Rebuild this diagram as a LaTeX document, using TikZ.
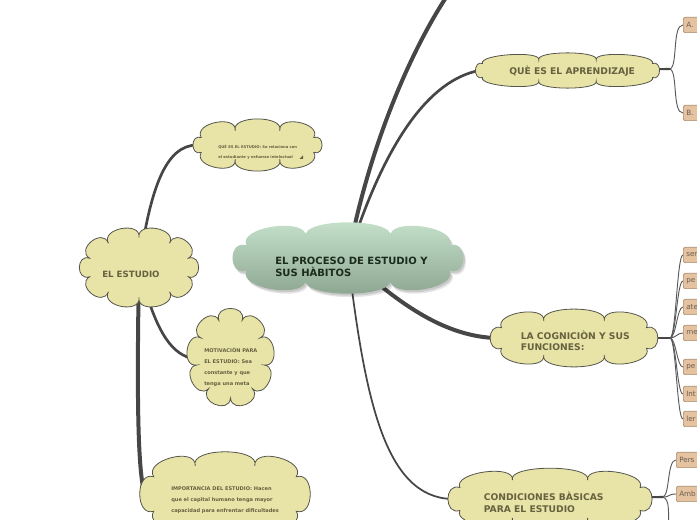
\documentclass[tikz,border=0pt]{standalone}
\usepackage{fontspec}
\setmainfont{DejaVu Sans}
\pgfdeclarelayer{bg}
\pgfsetlayers{bg,main}

\definecolor{cloudy}{HTML}{E8E4A8}
\definecolor{cloudline}{HTML}{55554C}
\definecolor{cloudtext}{HTML}{66613F}
\definecolor{rootA}{HTML}{C8E4CD}
\definecolor{rootB}{HTML}{8AA38F}
\definecolor{roottext}{HTML}{1C2C1C}
\definecolor{conn}{HTML}{464646}
\definecolor{leaffill}{HTML}{E5C2A0}
\definecolor{leafline}{HTML}{A88A6C}
\definecolor{leaftext}{HTML}{6A5E52}

\tikzset{
  ycloudfill/.style={draw=cloudline, line width=0.6pt, fill=cloudy},
  anchorbox/.style={inner sep=0pt, draw=none, minimum height=2pt},
  ytext/.style={text=cloudtext, align=left, inner sep=0pt, anchor=west},
  leaf/.style={draw=leafline, fill=leaffill, line width=0.5pt, rounded corners=1.5pt, minimum height=11.5pt,
     text width=26pt, align=left, inner xsep=2.2pt, inner ysep=0pt, anchor=west, text=leaftext,
     font=\fontsize{5.4}{6}\selectfont},
  bigc/.style={draw=conn, line width=3pt, line cap=round},
  midc/.style={draw=conn, line width=2pt, line cap=round},
  thinc/.style={draw=conn, line width=1.3pt, line cap=round},
  jct/.style={draw=conn, line width=1.6pt},
  leafc/.style={draw=conn!90, line width=0.7pt},
}

% cloud outline: cx cy a b {angle list, first = start, last = start+360} maxbulge
\newcommand\buildcloud[6]{%
  \foreach \ctb [count=\ck, remember=\ctb as \cta] in {#5}{%
    \pgfmathsetmacro\cxb{#1+#3*cos(\ctb)}%
    \pgfmathsetmacro\cyb{#2+#4*sin(\ctb)}%
    \ifnum\ck=1
      \xdef\cpath{(\cxb,\cyb)}%
    \else
      \pgfmathsetmacro\cxa{#1+#3*cos(\cta)}%
      \pgfmathsetmacro\cya{#2+#4*sin(\cta)}%
      \pgfmathsetmacro\cch{veclen(\cxb-\cxa,\cyb-\cya)}%
      \pgfmathsetmacro\cdd{min(0.55*\cch,#6)/0.75}%
      \pgfmathsetmacro\cux{(\cxb-\cxa)/\cch}%
      \pgfmathsetmacro\cuy{(\cyb-\cya)/\cch}%
      \pgfmathsetmacro\cpx{\cxa+\cdd*\cuy-0.33*\cdd*\cux}%
      \pgfmathsetmacro\cpy{\cya-\cdd*\cux-0.33*\cdd*\cuy}%
      \pgfmathsetmacro\cqx{\cxb+\cdd*\cuy+0.33*\cdd*\cux}%
      \pgfmathsetmacro\cqy{\cyb-\cdd*\cux+0.33*\cdd*\cuy}%
      \xdef\cpath{\cpath .. controls (\cpx,\cpy) and (\cqx,\cqy) .. (\cxb,\cyb)}%
    \fi
  }%
  \xdef\cpath{\cpath -- cycle}%
}
% name cx cy a b list maxbulge halfwidth
\newcommand\ycloudat[8]{%
  \buildcloud{#2}{#3}{#4}{#5}{#6}{#7}%
  \path[ycloudfill] \cpath;
  \node[anchorbox, minimum width={#8*1.5pt}] (#1) at (#2,#3) {};
}

\begin{document}
\begin{tikzpicture}[x=0.75pt,y=-0.75pt]
\useasboundingbox (0,0) rectangle (697,520);
\clip (0,0) rectangle (697,520);

% root cloud with shadow and gradient
\buildcloud{348}{258}{124}{22}{-35,35,70,110,145,215,250,290,325}{15}
\begin{scope}[shift={(2.5,3.5)}]
  \fill[black, opacity=.10] \cpath;
\end{scope}
\begin{scope}[shift={(1.5,2)}]
  \fill[black, opacity=.12] \cpath;
\end{scope}
\shade[top color=rootA, bottom color=rootB] \cpath;
\node[anchorbox, minimum width={110*1.5pt}] (root) at (348,258) {};

% yellow clouds
\ycloudat{est}{139}{267.5}{52}{30}{-18,18,54,90,126,162,198,234,270,306,342}{12}{56}
\ycloudat{qee}{257.5}{145}{65}{15}{-30,30,70,110,150,210,250,290,330}{12}{60}
\ycloudat{mot}{230.5}{358}{34}{40}{10,50,90,130,170,210,250,290,330,370}{12}{40}
\ycloudat{imp}{225}{494}{87}{30}{-35,35,70,110,145,215,250,290,325}{14}{80}
\ycloudat{apr}{567.5}{70.5}{111}{11}{-40,40,75,105,140,220,255,285,320}{7}{88}
\ycloudat{cog}{574}{338}{88.5}{18}{-35,35,70,110,145,215,250,290,325}{12}{80}
\ycloudat{con}{550}{499}{110}{20}{-35,35,70,110,145,215,250,290,325}{12}{98}

% texts
\node[text=roottext, align=left, inner sep=0pt, anchor=west, font=\fontsize{7.5}{9}\bfseries] (roott) at (275,266.5)
  {EL PROCESO DE ESTUDIO Y\\SUS HÀBITOS};
\node[ytext, font=\fontsize{6.5}{8}\bfseries] (estt) at (102,274) {EL ESTUDIO};
\node[ytext, font=\fontsize{2.8}{7.5}\bfseries] (qeet) at (218,152)
  {QUÈ ES EL ESTUDIO: Se relaciona con\\el estudiante y esfuerzo intelectual};
\node[ytext, font=\fontsize{3.8}{8.25}\bfseries] (mott) at (204,367.5)
  {MOTIVACIÒN PARA\\EL ESTUDIO: Sea\\constante y que\\tenga una meta};
\node[ytext, font=\fontsize{3.8}{8.25}\bfseries] (impt) at (171,500)
  {IMPORTANCIA DEL ESTUDIO: Hacen\\que el capital humano tenga mayor\\capacidad para enfrentar dificultades};
\node[ytext, font=\fontsize{6.9}{8}\bfseries] (aprt) at (509,71.5) {QUÈ ES EL APRENDIZAJE};
\node[ytext, font=\fontsize{6.9}{8.3}\bfseries] (cogt) at (520.5,341) {LA COGNICIÒN Y SUS\\FUNCIONES:};
\node[ytext, font=\fontsize{6.9}{8.9}\bfseries] (cont) at (483.5,502.5) {CONDICIONES BÀSICAS\\PARA EL ESTUDIO};
\fill[cloudtext] (299.5,159) -- (303,159) -- (303,155.5) -- cycle;

% leaves
\node[leaf] (lA) at (683,25) {A.};
\node[leaf] (lB) at (683,113) {B.};
\node[leaf] (c1) at (683,255) {sen};
\node[leaf] (c2) at (683,281) {pe};
\node[leaf] (c3) at (683,307) {ate};
\node[leaf] (c4) at (683,333) {me};
\node[leaf] (c5) at (683,367) {pe};
\node[leaf] (c6) at (683,394) {Int};
\node[leaf] (c7) at (683,419) {ler};
\node[leaf] (p1) at (676,460) {Pers};
\node[leaf] (p2) at (676,494) {Amb};

\coordinate (topend) at (451,-10);
\coordinate (aprj) at (670,69);
\coordinate (cogj) at (670,338);
\coordinate (conj) at (663,497);
\coordinate (condown) at (669,530);

\begin{pgfonlayer}{bg}
  \draw[bigc] (root.center) .. controls (368,150) and (410,50) .. (topend);
  \draw[midc] (root.center) .. controls (385,140) and (430,80) .. (apr.west);
  \draw[bigc] (root.center) .. controls (395,300) and (440,335) .. (cog.west);
  \draw[thinc] (root.center) .. controls (365,400) and (385,497) .. (con.west);
  \draw[midc] (est.center) .. controls (150,190) and (165,145) .. (qee.west);
  \draw[midc] (est.center) .. controls (155,330) and (170,352) .. (mot.west);
  \draw[bigc] (est.center) .. controls (137,380) and (137,470) .. (imp.west);
  % apr leaves
  \draw[jct] (apr.center) -- (aprj);
  \draw[leafc] (aprj) .. controls (678,66) and (672,25) .. (lA.west);
  \draw[leafc] (aprj) .. controls (678,72) and (672,113) .. (lB.west);
  % cog leaves
  \draw[jct] (cog.center) -- (cogj);
  \foreach \n in {c1,c2,c3,c4,c5,c6,c7}{
    \draw[leafc] (cogj) .. controls (676,338) and ([xshift=-4.5pt]\n.west) .. (\n.west);
  }
  % con leaves
  \draw[jct] (con.center) -- (conj);
  \draw[leafc] (conj) .. controls (670,495) and (667,460) .. (p1.west);
  \draw[leafc] (conj) .. controls (670,497) and (668,494) .. (p2.west);
  \draw[leafc] (conj) .. controls (670,500) and (668,510) .. (condown);
\end{pgfonlayer}
\end{tikzpicture}
\end{document}
